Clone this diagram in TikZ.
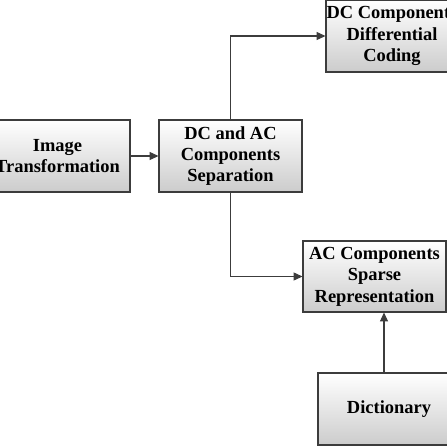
\documentclass[tikz,border=0pt]{standalone}
\usepackage{fontspec}
\setmainfont{Liberation Serif}
\usepackage{tikz}
\usetikzlibrary{shapes, arrows.meta, positioning}
\definecolor{linegray}{RGB}{60,60,60}
\tikzstyle{block}=[draw=linegray,line width=0.6pt,rectangle,inner sep=0pt,align=center,
  top color=white,bottom color=black!20,minimum height=1.44cm]
\tikzstyle{every node}=[font=\fontsize{10.5}{12.2}\selectfont\bfseries]

\begin{document}
\begin{tikzpicture}[x=0.02cm,y=-0.02cm,>={Triangle[length=5pt,width=4.5pt]},line width=0.6pt]
  \useasboundingbox (0,0) rectangle (447,447);
  \node[block,minimum width=2.9cm] (trans) at (57.5,156) {Image\\Transformation};
  \node[block,minimum width=2.86cm] (sep) at (230.5,156) {DC and AC\\Components\\Separation};
  \node[block,minimum width=2.64cm] (dc) at (392,36) {DC Components\\Differential\\Coding};
  \node[block,minimum width=2.86cm,minimum height=1.42cm] (ac) at (374.5,276.5) {AC Components\\Sparse\\Representation};
  \node[block,minimum width=2.84cm] (dict) at (389,409) {Dictionary};
  \draw[->,linegray] (trans) -- (sep);
  \draw[->,linegray] (sep.north) |- (dc.west);
  \draw[->,linegray] (sep.south) |- (ac.west);
  \draw[->,linegray] ([xshift=-0.1cm]dict.north) -- ([xshift=-0.1cm]dict.north |- ac.south);
\end{tikzpicture}
\end{document}
